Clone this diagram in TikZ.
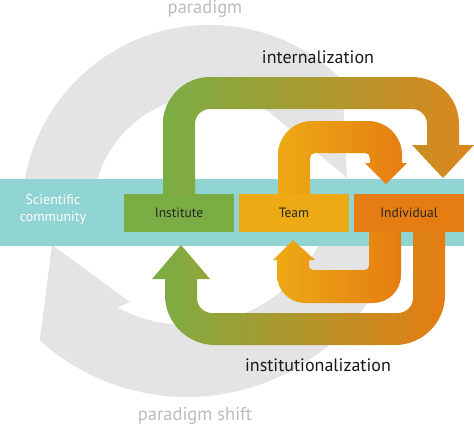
\documentclass[tikz,border=0pt]{standalone}
\usepackage{fontspec}
\setmainfont{PT Sans}
\definecolor{grn}{HTML}{7AAE44}
\definecolor{amb}{HTML}{EDAA14}
\definecolor{org}{HTML}{E57D12}
\definecolor{orgdk}{HTML}{DC861C}
\definecolor{bandcol}{HTML}{90D4D4}
\definecolor{ring}{HTML}{E4E4E4}
\definecolor{ringtxt}{HTML}{BCBCBC}
\begin{document}
\begin{tikzpicture}[x=1pt,y=-1pt,
    box/.style={minimum width=110pt, minimum height=38pt, inner sep=0pt, text=black!85, font=\fontsize{13.5}{15}\selectfont},
    ringlbl/.style={text=ringtxt, font=\fontsize{18.5}{20}\selectfont, anchor=base, inner sep=0pt},
    flowlbl/.style={text=black!90, font=\fontsize{18}{20}\selectfont, anchor=base, inner sep=0pt}]
\useasboundingbox (0,0) rectangle (474,424);
\fill[ring] (22,212.4) arc[start angle=180, end angle=315, radius=187.5] -- (347,178) -- (268,111.1) arc[start angle=300, end angle=180, radius=117] -- cycle;
\fill[ring] (402.2,222.7) arc[start angle=12, end angle=132, radius=220] -- (52,245) -- (130,302) -- (117.1,307.4) arc[start angle=118.2, end angle=12, radius=148] -- cycle;
\node[ringlbl] (para) at (205,13.5) {paradigm};
\node[ringlbl] (shift) at (195,420) {paradigm shift};
\fill[bandcol] (0,179) rectangle (464,246);
\node[align=center, text=white, font=\fontsize{14}{17}\selectfont] (sci) at (53,209.5) {Scientific\\community};
\foreach \nm/\cx/\cl/\tx in {inst/179/grn/Institute, team/294/amb/Team, indiv/409/org/Individual}
  \node[box, fill=\cl] (\nm) at (\cx,213) {\tx};
\shade[left color=grn, right color=orgdk] ([xshift=-16pt]inst.north) -- (163,124) arc[start angle=180, end angle=270, radius=47] -- (412,77) arc[start angle=270, end angle=360, radius=47] -- (459,145) -- (474,145) -- (443,178) -- (412,145) -- (427,145) -- (427,124) arc[start angle=0, end angle=-90, radius=15] -- (210,109) arc[start angle=270, end angle=180, radius=15] -- ([xshift=16pt]inst.north) -- cycle;
\shade[left color=amb, right color=org] ([xshift=-16pt]team.north) -- (278,155) arc[start angle=180, end angle=270, radius=34] -- (368,121) arc[start angle=270, end angle=360, radius=34] -- (402,163) -- (407,163) -- (386,184) -- (365,163) -- (370,163) -- (370,158) arc[start angle=0, end angle=-90, radius=5] -- (315,153) arc[start angle=270, end angle=180, radius=5] -- ([xshift=16pt]team.north) -- cycle;
\shade[left color=grn, right color=org] ([xshift=36pt]indiv.south) -- (445,295) arc[start angle=0, end angle=90, radius=50] -- (215,345) arc[start angle=90, end angle=180, radius=50] -- (165,279) -- (152,279) -- (181,245) -- (210,279) -- (197,279) -- (197,298) arc[start angle=180, end angle=90, radius=15] -- (398,313) arc[start angle=90, end angle=0, radius=15] -- ([xshift=4pt]indiv.south) -- cycle;
\shade[left color=amb, right color=org] ([xshift=-8pt]indiv.south) -- (401,275) arc[start angle=0, end angle=90, radius=28] -- (305,303) arc[start angle=90, end angle=180, radius=28] -- (277,260) -- (273,260) -- (293,240) -- (315,260) -- (309,260) -- (309,266) arc[start angle=180, end angle=90, radius=4] -- (365,270) arc[start angle=90, end angle=0, radius=4] -- ([xshift=-40pt]indiv.south) -- cycle;
\node[flowlbl] (intern) at (318,63) {internalization};
\node[flowlbl] (instit) at (318,371) {institutionalization};
\end{tikzpicture}
\end{document}
